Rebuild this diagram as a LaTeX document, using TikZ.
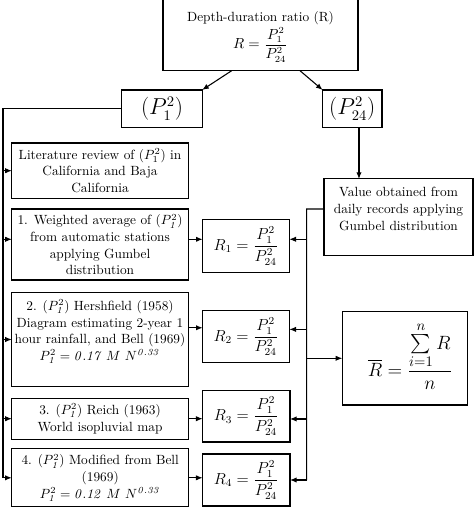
\documentclass[tikz,border=0pt]{standalone}
\usepackage{amsmath}
\usetikzlibrary{arrows.meta}
\begin{document}
\begin{tikzpicture}[x=0.75pt,y=-0.75pt,
  box/.style={draw,line width=0.8pt,inner sep=0pt,outer sep=0pt,align=center,font=\fontsize{10}{12.5}\selectfont},
  txt/.style={inner sep=0pt,align=center,font=\fontsize{10}{12.5}\selectfont},
  rbox/.style={box,font=\fontsize{12}{14}\selectfont},
  arr/.style={line width=0.8pt,-{Latex[length=5pt,width=4pt]}},
  ln/.style={line width=0.8pt}]
\useasboundingbox (0,0) rectangle (474,509);
% top
\node[box,minimum width=146.25pt,minimum height=60.5pt] (top) at (260.5,30.35) {};
\node[txt] (toptxt) at (260.5,37) {Depth-duration ratio (R)\\[1pt]\fontsize{10.5}{12}\selectfont$R=\dfrac{P_1^2}{P_{24}^2}$};
% P boxes
\node[box,minimum width=60.2pt,minimum height=28.3pt,font=\fontsize{16}{18}\selectfont] (p1) at (162,108.85) {$(P_1^2)$};
\node[box,minimum width=44.5pt,minimum height=28.3pt,font=\fontsize{16}{18}\selectfont] (p24) at (352.3,108.85) {$(P_{24}^2)$};
% left column
\node[box,minimum width=132.2pt,minimum height=41.5pt] (lit) at (100,170.7) {Literature review of ($P_1^2$) in\\California and Baja\\California};
\node[box,minimum width=132.2pt,minimum height=53.25pt] (b1) at (100,244.5) {1. Weighted average of ($P_{\mathit{1}}^2$)\\from automatic stations\\applying Gumbel\\distribution};
\node[box,minimum width=132.2pt,minimum height=70.8pt] (b2) at (100,339.5) {};
\node[txt] (b2t) at (100,331.7) {2. ($P_{\mathit{1}}^2$) Hershfield (1958)\\Diagram estimating 2-year 1\\hour rainfall, and Bell (1969)\\$P_{\mathit{1}}^2=\mathit{0.17}\ M\ N^{\mathit{0.33}}$};
\node[box,minimum width=132.2pt,minimum height=30.5pt] (b3) at (100,418.7) {3. ($P_{\mathit{1}}^2$) Reich (1963)\\World isopluvial map};
\node[box,minimum width=132.7pt,minimum height=43.3pt] (b4) at (100.2,477.8) {4. ($P_{\mathit{1}}^2$) Modified from Bell\\(1969)\\$P_{\mathit{1}}^2=\mathit{0.12}\ M\ N^{\mathit{0.33}}$};
% R boxes
\node[rbox,minimum width=65pt,minimum height=39.75pt] (r1) at (246,245.8) {$R_1=\dfrac{P_1^2}{P_{24}^2}$};
\node[rbox,minimum width=65pt,minimum height=39pt] (r2) at (246,336.7) {$R_2=\dfrac{P_1^2}{P_{24}^2}$};
\node[rbox,minimum width=65.5pt,minimum height=38.5pt] (r3) at (246.3,416.3) {$R_3=\dfrac{P_1^2}{P_{24}^2}$};
\node[rbox,minimum width=65.5pt,minimum height=39pt] (r4) at (246.3,480) {$R_4=\dfrac{P_1^2}{P_{24}^2}$};
% right
\node[box,minimum width=111.75pt,minimum height=57.5pt] (val) at (398.5,217.3) {};
\node[txt] (valt) at (398.5,209) {Value obtained from\\daily records applying\\Gumbel distribution};
\node[box,minimum width=94pt,minimum height=70pt] (rbar) at (405,358.3) {};
\node[inner sep=0pt,font=\fontsize{15}{17}\selectfont] (rbart) at (410,356) {$\overline{R}=\dfrac{\sum\limits_{i=1}^{n}R}{n}$};
% connectors top
\draw[arr] ([xshift=-21.6pt]top.south) -- (p1.north east);
\draw[arr] ([xshift=29.6pt]top.south) -- (p24.north west);
\draw[arr] ([xshift=5pt]p24.south) -- ([xshift=5pt]p24.south |- val.north);
% left rail
\coordinate (Lr) at (3,108);
\draw[ln] (p1.west) -- (p1.west -| Lr) -- (b4.west -| Lr);
\draw[arr] (lit.west -| Lr) -- (lit.west);
\draw[arr] ([yshift=3.9pt]b1.west -| Lr) -- ([yshift=3.9pt]b1.west);
\draw[arr] (b2.west -| Lr) -- (b2.west);
\draw[arr] (b3.west -| Lr) -- (b3.west);
\draw[arr] (b4.west -| Lr) -- (b4.west);
% left boxes to R boxes
\draw[arr] ([yshift=3.9pt]b1.east) -- ([yshift=3.9pt]b1.east -| r1.west);
\draw[arr] ([yshift=6.7pt]r2.west -| b2.east) -- ([yshift=6.7pt]r2.west);
\draw[arr] (b3.east) -- (b3.east -| r3.west);
\draw[arr] (b4.east) -- (b4.east -| r4.west);
% right rail
\coordinate (Rr) at (306.7,209);
\draw[ln] ([yshift=6.2pt]val.west) -- (Rr) -- (r4.east -| Rr);
\draw[arr] ([yshift=4.9pt]r1.east -| Rr) -- ([yshift=4.9pt]r1.east);
\draw[arr] ([yshift=5.5pt]r2.east -| Rr) -- ([yshift=5.5pt]r2.east);
\draw[arr] ([yshift=-2pt]r3.east -| Rr) -- ([yshift=-2pt]r3.east);
\draw[arr] (r4.east -| Rr) -- (r4.east);
\draw[arr] (rbar.west -| Rr) -- (rbar.west);
\end{tikzpicture}
\end{document}
